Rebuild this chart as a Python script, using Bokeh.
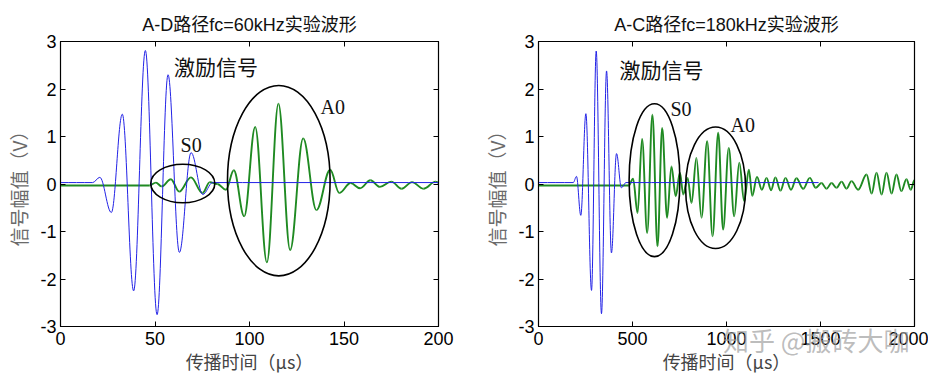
from bokeh.plotting import figure
from bokeh.layouts import row, column
from bokeh.models import Range1d, LinearAxis, FixedTicker, Label, Div
from bokeh.embed import file_html
from bokeh.resources import INLINE

# ---------------- data (extrema) ----------------
# Left panel: A-D path, fc = 60 kHz, time in us
left_exc_t = [0, 17, 20.8, 26.9, 32.7, 38.7, 44.9, 51.1, 56.9, 62.9, 69.1, 75.3, 80.5, 200]
left_exc_v = [0.03, 0.03, 0.14, -0.6, 1.47, -2.25, 2.81, -2.75, 2.3, -1.44, 0.66, -0.22, 0.03, 0.03]

left_rx_t = [0, 47, 50.5, 53.5, 58.4, 62.8, 69, 75.1, 79, 83, 87.5, 91.7, 97.2, 103, 109.2,
             115.3, 121.5, 128.4, 135.4, 142.7, 147.5, 153.5, 158.5, 164, 169, 175, 180.5,
             186, 192, 198.5, 200]
left_rx_v = [-0.03, -0.03, 0.03, -0.05, 0.1, -0.16, 0.14, -0.19, 0.04, 0.0, -0.12, 0.29, -0.68,
             1.2, -1.65, 1.69, -1.39, 0.96, -0.55, 0.3, -0.19, 0.02, -0.09, 0.08, -0.06, 0.05,
             -0.1, 0.04, -0.1, 0.05, 0.03]

# Right panel: A-C path, fc = 180 kHz
right_exc_t = [0, 185, 202, 225, 252, 282, 307, 335, 362, 388, 415, 441, 465, 1490]
right_exc_v = [0.03, 0.03, 0.16, -0.66, 1.48, -2.24, 2.8, -2.73, 2.38, -1.45, 0.64, -0.08, 0.03, 0.03]

right_rx_t = [0, 480, 503, 527, 551, 578, 606, 633, 658, 684, 707, 730, 752, 770, 793, 814, 840,
              867, 897, 926, 956, 982, 1012, 1041, 1068, 1094, 1119, 1137, 1162, 1188, 1213,
              1237, 1260, 1287, 1314, 1343, 1372, 1408, 1443, 1475, 1505, 1532, 1559, 1585,
              1612, 1638, 1665, 1700, 1745, 1772, 1798, 1825, 1851, 1878, 1904, 1930, 1957,
              1980, 2000]
right_rx_v = [-0.03, -0.03, 0.11, -0.61, 0.95, -1.03, 1.46, -1.31, 1.18, -0.71, 0.37, -0.26, 0.24,
              -0.22, 0.13, -0.4, 0.55, -0.71, 0.9, -1.1, 1.08, -0.96, 0.76, -0.68, 0.45, -0.36,
              0.3, -0.25, 0.15, -0.12, 0.13, -0.13, 0.14, -0.14, 0.13, -0.12, 0.12, -0.1, 0.13,
              -0.08, 0.02, -0.1, 0.02, -0.08, 0.05, -0.1, 0.06, -0.12, 0.2, -0.2, 0.24, -0.22,
              0.24, -0.2, 0.2, -0.15, 0.1, -0.12, 0.08]

# Mode-marking ellipses: centre t, centre v, width (t), height (V)
left_ell_t = [64.7, 115.5]
left_ell_v = [0.01, 0.07]
left_ell_w = [33.9, 54.3]
left_ell_h = [0.81, 4.01]

right_ell_t = [617, 942]
right_ell_v = [0.08, -0.08]
right_ell_w = [270, 319]
right_ell_h = [3.22, 2.56]

left_xticks = [0, 50, 100, 150, 200]
right_xticks = [0, 500, 1000, 1500, 2000]
yticks = [-3, -2, -1, 0, 1, 2, 3]

BLUE = "#2222e6"
GREEN = "#1f8a22"
LATIN = "Liberation Sans, Arial, sans-serif"
CJK = "Noto Sans CJK SC"


def smooth_wave(p, t, v, color, width):
    # cubic Bezier segments between successive extrema (horizontal tangents at extrema)
    x0 = t[:-1]
    x1 = t[1:]
    y0 = v[:-1]
    y1 = v[1:]
    k = 0.364
    cx0 = [a + k * (b - a) for a, b in zip(x0, x1)]
    cx1 = [b - k * (b - a) for a, b in zip(x0, x1)]
    p.bezier(x0=x0, y0=y0, x1=x1, y1=y1, cx0=cx0, cy0=y0, cx1=cx1, cy1=y1,
             line_color=color, line_width=width)


def make_fig(title, xmax, xticks, fw, bl, br):
    p = figure(frame_width=fw, frame_height=285, x_range=Range1d(0, xmax), y_range=Range1d(-3, 3),
               output_backend="svg", toolbar_location=None,
               min_border_left=bl, min_border_right=br, min_border_top=41, min_border_bottom=40)
    p.title.text = title
    p.title.align = "center"
    p.title.text_font = LATIN + ", " + CJK
    p.title.text_font_size = "18px"
    p.title.text_font_style = "normal"
    p.title.text_color = "#111111"
    p.title.standoff = 13
    p.xgrid.visible = False
    p.ygrid.visible = False
    p.outline_line_color = "black"
    p.outline_line_width = 1.2
    p.background_fill_color = "white"
    p.border_fill_color = "white"

    p.xaxis.ticker = FixedTicker(ticks=xticks)
    p.yaxis.ticker = FixedTicker(ticks=yticks)
    p.yaxis.major_label_overrides = {t: str(t) for t in yticks}
    for ax in (p.xaxis[0], p.yaxis[0]):
        ax.major_tick_in = 5
        ax.major_tick_out = 0
        ax.minor_tick_in = 0
        ax.minor_tick_out = 0
        ax.axis_line_color = "black"
        ax.major_label_text_font = LATIN
        ax.major_label_text_font_size = "18px"
        ax.major_label_text_color = "black"
        ax.axis_label_text_font = CJK
        ax.axis_label_text_font_style = "normal"
    p.xaxis.major_label_standoff = 5
    p.yaxis.major_label_standoff = 4
    p.xaxis.axis_label = "传播时间（μs）"
    p.xaxis.axis_label_text_font_size = "18px"
    p.xaxis.axis_label_text_color = "#444444"
    p.xaxis.axis_label_standoff = 0
    p.yaxis.axis_label = "信号幅值（V）"
    p.yaxis.axis_label_text_font_size = "19px"
    p.yaxis.axis_label_text_color = "#6a6a6a"
    p.yaxis.axis_label_standoff = 5

    top = LinearAxis(ticker=FixedTicker(ticks=xticks), major_tick_in=5, major_tick_out=0,
                     minor_tick_in=0, minor_tick_out=0, major_label_text_font_size="1px",
                     major_label_text_color=None, major_label_standoff=0,
                     axis_line_color="black")
    right = LinearAxis(ticker=FixedTicker(ticks=yticks), major_tick_in=5, major_tick_out=0,
                       minor_tick_in=0, minor_tick_out=0, major_label_text_font_size="1px",
                       major_label_text_color=None, major_label_standoff=0,
                       axis_line_color="black")
    p.add_layout(top, "above")
    p.add_layout(right, "right")
    return p


def add_label(p, x, y, text, font, size):
    p.add_layout(Label(x=x, y=y, text=text, text_font=font, text_font_size=size,
                       text_color="#111111", text_baseline="middle", text_align="left"))


# ---------------- left panel ----------------
p1 = make_fig("A-D路径fc=60kHz实验波形", 200, left_xticks, 378, 60, 29)
smooth_wave(p1, left_rx_t, left_rx_v, GREEN, 1.9)
smooth_wave(p1, left_exc_t, left_exc_v, BLUE, 1.0)
p1.ellipse(x=left_ell_t, y=left_ell_v, width=left_ell_w, height=left_ell_h,
           fill_color=None, line_color="black", line_width=1.6)
add_label(p1, 60.1, 2.48, "激励信号", CJK, "21px")
add_label(p1, 63.5, 0.82, "S0", "Liberation Serif", "20px")
add_label(p1, 137.6, 1.62, "A0", "Liberation Serif", "20px")

# ---------------- right panel ----------------
p2 = make_fig("A-C路径fc=180kHz实验波形", 2000, right_xticks, 376, 71, 14)
smooth_wave(p2, right_rx_t, right_rx_v, GREEN, 1.9)
smooth_wave(p2, right_exc_t, right_exc_v, BLUE, 1.0)
p2.ellipse(x=right_ell_t, y=right_ell_v, width=right_ell_w, height=right_ell_h,
           fill_color=None, line_color="black", line_width=1.6)
add_label(p2, 431, 2.43, "激励信号", CJK, "21px")
add_label(p2, 702, 1.57, "S0", "Liberation Serif", "20px")
add_label(p2, 1021, 1.24, "A0", "Liberation Serif", "20px")

# watermark laid over the lower right corner
mark = Div(text="知乎 @搬砖大咖", width=210, height=32, margin=(-55, 0, 0, 256),
           styles={"font-family": CJK, "font-size": "26px", "color": "rgba(160,160,160,0.7)",
                   "white-space": "nowrap", "z-index": "10", "position": "relative"})

layout = row(p1, column(p2, mark))
open("out.html", "w").write(file_html(layout, INLINE))
